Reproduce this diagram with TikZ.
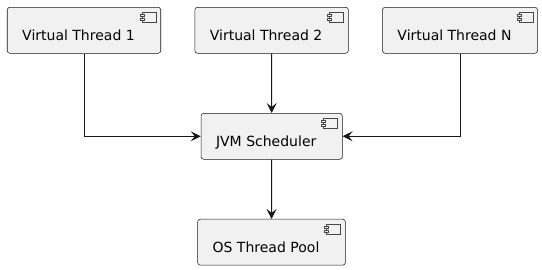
\documentclass[tikz,border=0pt]{standalone}
\usepackage{fontspec}
\setmainfont{DejaVu Sans}
\usepackage{xcolor}
\usetikzlibrary{arrows.meta, positioning, calc}
\definecolor{compfill}{HTML}{F1F1F1}
\definecolor{darkline}{HTML}{181818}

\begin{document}
\begin{tikzpicture}[
    x=0.75pt, y=0.75pt,
    comp/.style={rectangle, draw=darkline, fill=compfill, line width=0.4pt,
                 rounded corners=2pt, minimum height=34.5pt,
                 inner xsep=11.25pt, text height=15.2pt, text depth=0pt,
                 font=\fontsize{10.5pt}{12pt}\selectfont,
                 execute at end node={\kern8.25pt}},
    arrow/.style={-{Stealth[length=7.5pt, width=7.5pt, inset=3pt]},
                  line width=0.75pt, color=darkline},
    icon/.style={draw=darkline!80, fill=compfill, line width=0.3pt}
]
\useasboundingbox (0,0) rectangle (542,270);

% Virtual threads (top row)
\node[comp] (vt1) at (84,239.7) {Virtual Thread 1};
\node[comp] (vt2) at (271.6,239.7) {Virtual Thread 2};
\node[comp] (vtn) at (460,239.7) {Virtual Thread N};

% Scheduler and carrier pool
\node[comp] (jvm) at (271.7,133.7) {JVM Scheduler};
\node[comp] (os) at (271.5,27.8) {OS Thread Pool};

% Component icons
\foreach \n in {vt1, vt2, vtn, jvm, os} {
    \draw[icon] ($(\n.north east)+(-19,-5)$) rectangle ++(14,-10);
    \draw[icon] ($(\n.north east)+(-21,-7)$) rectangle ++(4,-2);
    \draw[icon] ($(\n.north east)+(-21,-11)$) rectangle ++(4,-2);
}

% Arrows
\draw[arrow] (vt1.south) |- (jvm.west);
\draw[arrow] (vt2) -- (jvm);
\draw[arrow] (vtn.south) |- (jvm.east);
\draw[arrow] (jvm) -- (os);

\end{tikzpicture}
\end{document}
